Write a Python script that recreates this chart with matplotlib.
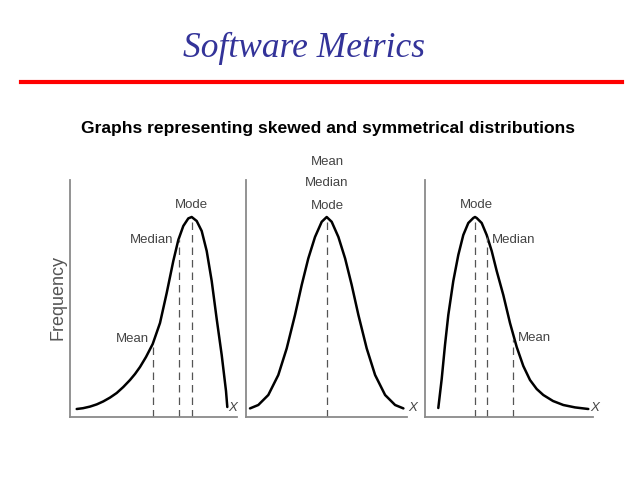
import numpy as np
import matplotlib
matplotlib.use("Agg")
import matplotlib.pyplot as plt
from matplotlib.lines import Line2D

# Left-skewed curve (x units, relative frequency)
left_x = [0.67, 1.3, 2.0, 2.67, 3.33, 4.0, 4.67, 5.33, 6.0, 6.5, 7.0, 7.6, 8.27,
          9.0, 9.67, 10.33, 10.83, 11.33, 11.83, 12.17, 12.67, 13.17, 13.67,
          14.17, 14.67, 15.17, 15.6, 15.73]
left_y = [0.04, 0.044, 0.052, 0.063, 0.078, 0.097, 0.12, 0.15, 0.185, 0.215, 0.25,
          0.30, 0.365, 0.47, 0.62, 0.78, 0.885, 0.955, 0.993, 1.0, 0.98, 0.93,
          0.83, 0.68, 0.49, 0.31, 0.13, 0.05]

# Symmetric curve
sym_x = [0.4, 1.23, 2.23, 3.23, 4.07, 4.9, 5.57, 6.23, 6.9, 7.57, 8.07, 8.57,
         9.24, 9.91, 10.57, 11.24, 12.07, 12.91, 13.91, 14.91, 15.74]
sym_y = [0.043, 0.06, 0.11, 0.21, 0.343, 0.51, 0.66, 0.793, 0.90, 0.976, 1.0,
         0.976, 0.90, 0.793, 0.66, 0.51, 0.343, 0.21, 0.11, 0.06, 0.043]

# Right-skewed curve
right_x = [1.33, 1.67, 2.0, 2.33, 2.83, 3.33, 3.83, 4.33, 4.83, 5.0, 5.17, 5.67,
           6.17, 6.67, 7.17, 7.83, 8.5, 9.17, 9.83, 10.5, 11.17, 11.83, 12.8,
           13.83, 15.0, 16.33]
right_y = [0.045, 0.19, 0.36, 0.51, 0.68, 0.81, 0.91, 0.97, 0.995, 1.0, 0.995,
           0.97, 0.91, 0.83, 0.73, 0.61, 0.47, 0.35, 0.255, 0.185, 0.14, 0.11,
           0.08, 0.06, 0.048, 0.04]

# dashed marker positions (x, curve height)
left_marks = {"Mean": (8.27, 0.365), "Median": (10.93, 0.89), "Mode": (12.17, 1.0)}
sym_marks = {"Mode": (8.07, 1.0)}
right_marks = {"Mode": (5.0, 1.0), "Median": (6.23, 0.9), "Mean": (8.83, 0.39)}

W, H = 638, 478
fig = plt.figure(figsize=(W / 100, H / 100), dpi=100)
fig.patch.set_facecolor("white")

narrow = ["Liberation Sans Narrow", "Liberation Sans", "DejaVu Sans"]
label_kw = dict(family=narrow, fontsize=9.5, color="#444444")

fig.text(304 / W, 1 - 48 / H, "Software Metrics", family=["Liberation Serif", "DejaVu Serif"],
         style="italic", fontsize=25.5, color="#333399", ha="center", va="center")
fig.add_artist(Line2D([21 / W, 622 / W], [1 - 82 / H, 1 - 82 / H], color="#ff0000",
                      linewidth=3, transform=fig.transFigure))
fig.text(328 / W, 1 - 128 / H, "Graphs representing skewed and symmetrical distributions",
         family=["Liberation Sans", "DejaVu Sans"], fontweight="bold", fontsize=12.6,
         color="black", ha="center", va="center")
fig.text(58 / W, 1 - 298 / H, "Frequency", family=["Liberation Sans", "DejaVu Sans"],
         fontsize=13, color="#555555", rotation=90, ha="center", va="center")


def panel(left, right, xs, ys, marks):
    ax = fig.add_axes([left / W, (H - 417) / H, (right - left) / W, 237 / H])
    ax.set_xlim(0, (right - left) / 10)
    ax.set_ylim(0, 237 / 200)
    for s in ["top", "right"]:
        ax.spines[s].set_visible(False)
    for s in ["left", "bottom"]:
        ax.spines[s].set_color("#8a8a8a")
        ax.spines[s].set_linewidth(1.3)
    ax.set_xticks([])
    ax.set_yticks([])
    ax.patch.set_alpha(0)
    ax.plot(xs, ys, color="black", linewidth=1.8, solid_capstyle="round",
            solid_joinstyle="round")
    for name, (mx, my) in marks.items():
        ax.plot([mx, mx], [0, my], color="#555555", linewidth=0.9,
                dashes=(6, 4))
    return ax


ax1 = panel(70, 237, left_x, left_y, left_marks)
ax1.text(12.1, 1.06, "Mode", ha="center", va="center", **label_kw)
ax1.text(10.3, 0.885, "Median", ha="right", va="center", **label_kw)
ax1.text(7.9, 0.39, "Mean", ha="right", va="center", **label_kw)
ax1.text(16.3, 0.045, "X", ha="center", va="center", style="italic", **label_kw)

ax2 = panel(246, 407, sym_x, sym_y, sym_marks)
ax2.text(8.1, 1.275, "Mean", ha="center", va="center", **label_kw)
ax2.text(8.1, 1.17, "Median", ha="center", va="center", **label_kw)
ax2.text(8.1, 1.055, "Mode", ha="center", va="center", **label_kw)
ax2.text(16.7, 0.045, "X", ha="center", va="center", style="italic", **label_kw)

ax3 = panel(425, 593, right_x, right_y, right_marks)
ax3.text(5.1, 1.06, "Mode", ha="center", va="center", **label_kw)
ax3.text(6.7, 0.885, "Median", ha="left", va="center", **label_kw)
ax3.text(9.3, 0.395, "Mean", ha="left", va="center", **label_kw)
ax3.text(17.0, 0.045, "X", ha="center", va="center", style="italic", **label_kw)

fig.savefig("out.png", dpi=100)
